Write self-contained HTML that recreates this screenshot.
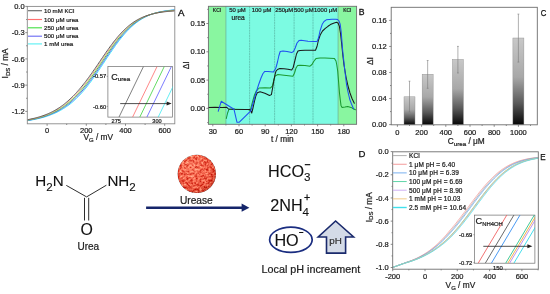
<!DOCTYPE html>
<html><head><meta charset="utf-8"><title>Urea sensing figure</title>
<style>
html,body{margin:0;padding:0;background:#fff;width:550px;height:294px;overflow:hidden}
svg{display:block}
text{font-family:"Liberation Sans", Arial, sans-serif;stroke:currentColor;stroke-width:0.22px;paint-order:stroke}
.big text, text.big{stroke-width:0.1px}
</style></head><body>
<svg width="550" height="294" viewBox="0 0 550 294" color="#1c1c1c">
<defs>
<clipPath id="clipA"><rect x="27.3" y="6.4" width="147.5" height="117.4"/></clipPath>
<clipPath id="clipAi"><rect x="107.9" y="66.4" width="64.7" height="50.7"/></clipPath>
<clipPath id="clipE"><rect x="392.7" y="151.8" width="145.6" height="117.4"/></clipPath>
<clipPath id="clipEi"><rect x="474.5" y="215.1" width="60.4" height="48.1"/></clipPath>
</defs>
<g fill="none" stroke-width="1.0" clip-path="url(#clipA)">
<path d="M27.3 120.64 L28.23 120.51 L29.16 120.36 L30.08 120.22 L31.01 120.06 L31.94 119.9 L32.87 119.73 L33.79 119.56 L34.72 119.38 L35.65 119.19 L36.58 119 L37.5 118.79 L38.43 118.58 L39.36 118.36 L40.29 118.13 L41.22 117.9 L42.14 117.65 L43.07 117.39 L44 117.13 L44.93 116.85 L45.85 116.56 L46.78 116.26 L47.71 115.95 L48.64 115.63 L49.56 115.3 L50.49 114.95 L51.42 114.59 L52.35 114.22 L53.27 113.84 L54.2 113.44 L55.13 113.02 L56.06 112.59 L56.99 112.15 L57.91 111.69 L58.84 111.21 L59.77 110.72 L60.7 110.21 L61.62 109.69 L62.55 109.14 L63.48 108.58 L64.41 108 L65.33 107.4 L66.26 106.78 L67.19 106.14 L68.12 105.49 L69.05 104.81 L69.97 104.11 L70.9 103.37 L71.83 102.6 L72.76 101.82 L73.68 101.01 L74.61 100.17 L75.54 99.32 L76.47 98.44 L77.39 97.53 L78.32 96.61 L79.25 95.66 L80.18 94.68 L81.11 93.66 L82.03 92.61 L82.96 91.55 L83.89 90.46 L84.82 89.34 L85.74 88.21 L86.67 87.05 L87.6 85.87 L88.53 84.67 L89.45 83.46 L90.38 82.22 L91.31 80.96 L92.24 79.68 L93.16 78.39 L94.09 77.08 L95.02 75.76 L95.95 74.43 L96.88 73.08 L97.8 71.71 L98.73 70.34 L99.66 68.96 L100.59 67.58 L101.51 66.18 L102.44 64.79 L103.37 63.39 L104.3 61.98 L105.22 60.58 L106.15 59.18 L107.08 57.78 L108.01 56.39 L108.94 55.01 L109.86 53.63 L110.79 52.26 L111.72 50.9 L112.65 49.55 L113.57 48.22 L114.5 46.91 L115.43 45.61 L116.36 44.33 L117.28 43.06 L118.21 41.82 L119.14 40.6 L120.07 39.4 L120.99 38.23 L121.92 37.08 L122.85 35.95 L123.78 34.85 L124.71 33.78 L125.63 32.73 L126.56 31.71 L127.49 30.72 L128.42 29.75 L129.34 28.82 L130.27 27.91 L131.2 27.03 L132.13 26.18 L133.05 25.36 L133.98 24.56 L134.91 23.8 L135.84 23.06 L136.77 22.34 L137.69 21.66 L138.62 21 L139.55 20.37 L140.48 19.76 L141.4 19.17 L142.33 18.62 L143.26 18.08 L144.19 17.57 L145.11 17.08 L146.04 16.61 L146.97 16.16 L147.9 15.73 L148.83 15.33 L149.75 14.94 L150.68 14.58 L151.61 14.24 L152.54 13.92 L153.46 13.62 L154.39 13.33 L155.32 13.06 L156.25 12.8 L157.17 12.56 L158.1 12.33 L159.03 12.11 L159.96 11.9 L160.88 11.71 L161.81 11.52 L162.74 11.35 L163.67 11.19 L164.6 11.03 L165.52 10.88 L166.45 10.75 L167.38 10.62 L168.31 10.49 L169.23 10.38 L170.16 10.27 L171.09 10.17 L172.02 10.07 L172.94 9.98 L173.87 9.9 L174.8 9.82" stroke="#30e0f8"/>
<path d="M27.3 120.41 L28.23 120.27 L29.16 120.12 L30.08 119.96 L31.01 119.8 L31.94 119.63 L32.87 119.45 L33.79 119.27 L34.72 119.08 L35.65 118.88 L36.58 118.67 L37.5 118.46 L38.43 118.23 L39.36 118 L40.29 117.76 L41.22 117.51 L42.14 117.25 L43.07 116.97 L44 116.69 L44.93 116.4 L45.85 116.09 L46.78 115.78 L47.71 115.45 L48.64 115.11 L49.56 114.76 L50.49 114.39 L51.42 114.01 L52.35 113.62 L53.27 113.21 L54.2 112.78 L55.13 112.35 L56.06 111.89 L56.99 111.42 L57.91 110.93 L58.84 110.43 L59.77 109.91 L60.7 109.37 L61.62 108.81 L62.55 108.23 L63.48 107.64 L64.41 107.03 L65.33 106.39 L66.26 105.74 L67.19 105.06 L68.12 104.36 L69.05 103.65 L69.97 102.91 L70.9 102.14 L71.83 101.34 L72.76 100.52 L73.68 99.68 L74.61 98.82 L75.54 97.93 L76.47 97.02 L77.39 96.08 L78.32 95.12 L79.25 94.14 L80.18 93.13 L81.11 92.09 L82.03 91.03 L82.96 89.94 L83.89 88.83 L84.82 87.7 L85.74 86.55 L86.67 85.37 L87.6 84.18 L88.53 82.96 L89.45 81.73 L90.38 80.47 L91.31 79.2 L92.24 77.92 L93.16 76.61 L94.09 75.29 L95.02 73.96 L95.95 72.62 L96.88 71.27 L97.8 69.9 L98.73 68.53 L99.66 67.15 L100.59 65.76 L101.51 64.37 L102.44 62.98 L103.37 61.59 L104.3 60.19 L105.22 58.8 L106.15 57.41 L107.08 56.03 L108.01 54.66 L108.94 53.29 L109.86 51.93 L110.79 50.58 L111.72 49.25 L112.65 47.93 L113.57 46.63 L114.5 45.34 L115.43 44.07 L116.36 42.82 L117.28 41.59 L118.21 40.39 L119.14 39.2 L120.07 38.04 L120.99 36.91 L121.92 35.79 L122.85 34.71 L123.78 33.65 L124.71 32.62 L125.63 31.61 L126.56 30.64 L127.49 29.69 L128.42 28.77 L129.34 27.88 L130.27 27.01 L131.2 26.18 L132.13 25.37 L133.05 24.59 L133.98 23.84 L134.91 23.11 L135.84 22.42 L136.77 21.75 L137.69 21.1 L138.62 20.48 L139.55 19.89 L140.48 19.32 L141.4 18.78 L142.33 18.25 L143.26 17.76 L144.19 17.28 L145.11 16.82 L146.04 16.39 L146.97 15.98 L147.9 15.58 L148.83 15.21 L149.75 14.85 L150.68 14.51 L151.61 14.2 L152.54 13.9 L153.46 13.62 L154.39 13.35 L155.32 13.09 L156.25 12.85 L157.17 12.63 L158.1 12.41 L159.03 12.21 L159.96 12.01 L160.88 11.83 L161.81 11.66 L162.74 11.5 L163.67 11.34 L164.6 11.2 L165.52 11.06 L166.45 10.94 L167.38 10.82 L168.31 10.7 L169.23 10.6 L170.16 10.5 L171.09 10.4 L172.02 10.31 L172.94 10.23 L173.87 10.15 L174.8 10.08" stroke="#5a5af0"/>
<path d="M27.3 120.18 L28.23 120.03 L29.16 119.87 L30.08 119.7 L31.01 119.53 L31.94 119.35 L32.87 119.17 L33.79 118.97 L34.72 118.77 L35.65 118.56 L36.58 118.34 L37.5 118.11 L38.43 117.88 L39.36 117.63 L40.29 117.38 L41.22 117.11 L42.14 116.83 L43.07 116.55 L44 116.25 L44.93 115.94 L45.85 115.62 L46.78 115.28 L47.71 114.94 L48.64 114.58 L49.56 114.2 L50.49 113.82 L51.42 113.41 L52.35 113 L53.27 112.56 L54.2 112.12 L55.13 111.65 L56.06 111.17 L56.99 110.67 L57.91 110.16 L58.84 109.63 L59.77 109.07 L60.7 108.5 L61.62 107.91 L62.55 107.3 L63.48 106.67 L64.41 106.02 L65.33 105.35 L66.26 104.66 L67.19 103.95 L68.12 103.21 L69.05 102.45 L69.97 101.67 L70.9 100.87 L71.83 100.04 L72.76 99.19 L73.68 98.32 L74.61 97.42 L75.54 96.5 L76.47 95.56 L77.39 94.59 L78.32 93.6 L79.25 92.59 L80.18 91.55 L81.11 90.49 L82.03 89.41 L82.96 88.3 L83.89 87.17 L84.82 86.02 L85.74 84.85 L86.67 83.66 L87.6 82.45 L88.53 81.22 L89.45 79.97 L90.38 78.7 L91.31 77.42 L92.24 76.12 L93.16 74.81 L94.09 73.48 L95.02 72.15 L95.95 70.8 L96.88 69.44 L97.8 68.07 L98.73 66.7 L99.66 65.32 L100.59 63.94 L101.51 62.56 L102.44 61.17 L103.37 59.79 L104.3 58.4 L105.22 57.03 L106.15 55.65 L107.08 54.29 L108.01 52.93 L108.94 51.59 L109.86 50.25 L110.79 48.93 L111.72 47.62 L112.65 46.33 L113.57 45.06 L114.5 43.8 L115.43 42.57 L116.36 41.35 L117.28 40.16 L118.21 38.99 L119.14 37.84 L120.07 36.72 L120.99 35.62 L121.92 34.55 L122.85 33.51 L123.78 32.49 L124.71 31.5 L125.63 30.54 L126.56 29.61 L127.49 28.7 L128.42 27.83 L129.34 26.98 L130.27 26.16 L131.2 25.37 L132.13 24.6 L133.05 23.87 L133.98 23.16 L134.91 22.47 L135.84 21.82 L136.77 21.19 L137.69 20.59 L138.62 20.01 L139.55 19.45 L140.48 18.92 L141.4 18.41 L142.33 17.93 L143.26 17.47 L144.19 17.03 L145.11 16.6 L146.04 16.2 L146.97 15.82 L147.9 15.46 L148.83 15.12 L149.75 14.79 L150.68 14.48 L151.61 14.18 L152.54 13.9 L153.46 13.64 L154.39 13.39 L155.32 13.15 L156.25 12.92 L157.17 12.71 L158.1 12.51 L159.03 12.32 L159.96 12.14 L160.88 11.97 L161.81 11.81 L162.74 11.66 L163.67 11.52 L164.6 11.38 L165.52 11.26 L166.45 11.14 L167.38 11.03 L168.31 10.92 L169.23 10.82 L170.16 10.73 L171.09 10.64 L172.02 10.56 L172.94 10.48 L173.87 10.41 L174.8 10.34" stroke="#40d040"/>
<path d="M27.3 119.95 L28.23 119.79 L29.16 119.62 L30.08 119.44 L31.01 119.26 L31.94 119.07 L32.87 118.88 L33.79 118.67 L34.72 118.46 L35.65 118.24 L36.58 118.01 L37.5 117.77 L38.43 117.52 L39.36 117.26 L40.29 116.99 L41.22 116.71 L42.14 116.42 L43.07 116.11 L44 115.8 L44.93 115.47 L45.85 115.13 L46.78 114.78 L47.71 114.41 L48.64 114.03 L49.56 113.64 L50.49 113.23 L51.42 112.8 L52.35 112.36 L53.27 111.91 L54.2 111.43 L55.13 110.94 L56.06 110.44 L56.99 109.91 L57.91 109.36 L58.84 108.8 L59.77 108.22 L60.7 107.62 L61.62 106.99 L62.55 106.35 L63.48 105.68 L64.41 105 L65.33 104.29 L66.26 103.56 L67.19 102.8 L68.12 102.03 L69.05 101.23 L69.97 100.4 L70.9 99.57 L71.83 98.71 L72.76 97.83 L73.68 96.92 L74.61 96 L75.54 95.04 L76.47 94.07 L77.39 93.07 L78.32 92.05 L79.25 91 L80.18 89.93 L81.11 88.85 L82.03 87.75 L82.96 86.63 L83.89 85.48 L84.82 84.31 L85.74 83.12 L86.67 81.92 L87.6 80.69 L88.53 79.45 L89.45 78.18 L90.38 76.91 L91.31 75.61 L92.24 74.31 L93.16 72.99 L94.09 71.66 L95.02 70.31 L95.95 68.96 L96.88 67.6 L97.8 66.24 L98.73 64.87 L99.66 63.49 L100.59 62.12 L101.51 60.74 L102.44 59.36 L103.37 57.99 L104.3 56.62 L105.22 55.26 L106.15 53.91 L107.08 52.56 L108.01 51.22 L108.94 49.9 L109.86 48.59 L110.79 47.3 L111.72 46.02 L112.65 44.76 L113.57 43.51 L114.5 42.29 L115.43 41.09 L116.36 39.91 L117.28 38.76 L118.21 37.62 L119.14 36.52 L120.07 35.44 L120.99 34.38 L121.92 33.35 L122.85 32.35 L123.78 31.38 L124.71 30.43 L125.63 29.51 L126.56 28.62 L127.49 27.76 L128.42 26.93 L129.34 26.12 L130.27 25.35 L131.2 24.6 L132.13 23.88 L133.05 23.18 L133.98 22.52 L134.91 21.88 L135.84 21.26 L136.77 20.67 L137.69 20.11 L138.62 19.57 L139.55 19.05 L140.48 18.56 L141.4 18.09 L142.33 17.64 L143.26 17.21 L144.19 16.8 L145.11 16.42 L146.04 16.05 L146.97 15.7 L147.9 15.37 L148.83 15.05 L149.75 14.75 L150.68 14.46 L151.61 14.19 L152.54 13.93 L153.46 13.68 L154.39 13.44 L155.32 13.22 L156.25 13.01 L157.17 12.81 L158.1 12.62 L159.03 12.45 L159.96 12.28 L160.88 12.12 L161.81 11.97 L162.74 11.83 L163.67 11.7 L164.6 11.58 L165.52 11.46 L166.45 11.35 L167.38 11.25 L168.31 11.15 L169.23 11.06 L170.16 10.97 L171.09 10.89 L172.02 10.81 L172.94 10.74 L173.87 10.68 L174.8 10.61" stroke="#f0a080"/>
<path d="M27.3 119.71 L28.23 119.54 L29.16 119.37 L30.08 119.18 L31.01 118.99 L31.94 118.79 L32.87 118.59 L33.79 118.37 L34.72 118.15 L35.65 117.91 L36.58 117.67 L37.5 117.42 L38.43 117.15 L39.36 116.88 L40.29 116.6 L41.22 116.3 L42.14 115.99 L43.07 115.67 L44 115.34 L44.93 115 L45.85 114.64 L46.78 114.27 L47.71 113.88 L48.64 113.48 L49.56 113.06 L50.49 112.63 L51.42 112.18 L52.35 111.72 L53.27 111.24 L54.2 110.74 L55.13 110.22 L56.06 109.68 L56.99 109.13 L57.91 108.55 L58.84 107.96 L59.77 107.34 L60.7 106.7 L61.62 106.05 L62.55 105.37 L63.48 104.66 L64.41 103.94 L65.33 103.19 L66.26 102.42 L67.19 101.63 L68.12 100.81 L69.05 99.96 L69.97 99.1 L70.9 98.23 L71.83 97.34 L72.76 96.43 L73.68 95.49 L74.61 94.53 L75.54 93.55 L76.47 92.54 L77.39 91.51 L78.32 90.45 L79.25 89.38 L80.18 88.28 L81.11 87.18 L82.03 86.06 L82.96 84.92 L83.89 83.75 L84.82 82.57 L85.74 81.37 L86.67 80.15 L87.6 78.91 L88.53 77.65 L89.45 76.38 L90.38 75.09 L91.31 73.79 L92.24 72.47 L93.16 71.15 L94.09 69.81 L95.02 68.46 L95.95 67.11 L96.88 65.75 L97.8 64.39 L98.73 63.03 L99.66 61.66 L100.59 60.29 L101.51 58.92 L102.44 57.56 L103.37 56.2 L104.3 54.85 L105.22 53.51 L106.15 52.17 L107.08 50.85 L108.01 49.54 L108.94 48.24 L109.86 46.96 L110.79 45.69 L111.72 44.44 L112.65 43.21 L113.57 42 L114.5 40.82 L115.43 39.65 L116.36 38.51 L117.28 37.39 L118.21 36.3 L119.14 35.23 L120.07 34.19 L120.99 33.18 L121.92 32.19 L122.85 31.24 L123.78 30.3 L124.71 29.4 L125.63 28.53 L126.56 27.68 L127.49 26.86 L128.42 26.07 L129.34 25.31 L130.27 24.58 L131.2 23.87 L132.13 23.19 L133.05 22.54 L133.98 21.92 L134.91 21.32 L135.84 20.74 L136.77 20.19 L137.69 19.67 L138.62 19.16 L139.55 18.68 L140.48 18.23 L141.4 17.79 L142.33 17.38 L143.26 16.99 L144.19 16.61 L145.11 16.26 L146.04 15.92 L146.97 15.6 L147.9 15.3 L148.83 15.01 L149.75 14.74 L150.68 14.47 L151.61 14.21 L152.54 13.97 L153.46 13.74 L154.39 13.52 L155.32 13.31 L156.25 13.12 L157.17 12.93 L158.1 12.76 L159.03 12.59 L159.96 12.44 L160.88 12.29 L161.81 12.15 L162.74 12.02 L163.67 11.9 L164.6 11.78 L165.52 11.68 L166.45 11.57 L167.38 11.48 L168.31 11.39 L169.23 11.3 L170.16 11.22 L171.09 11.15 L172.02 11.08 L172.94 11.01 L173.87 10.95 L174.8 10.89" stroke="#5a5a5a"/>
</g>
<rect x="27.3" y="6.4" width="147.5" height="117.4" fill="none" stroke="#8a8a8a" stroke-width="0.9"/>
<line x1="25.3" y1="6.4" x2="27.3" y2="6.4" stroke="#6e6e6e" stroke-width="0.8"/>
<line x1="25.3" y1="32.65" x2="27.3" y2="32.65" stroke="#6e6e6e" stroke-width="0.8"/>
<line x1="25.3" y1="58.9" x2="27.3" y2="58.9" stroke="#6e6e6e" stroke-width="0.8"/>
<line x1="25.3" y1="85.15" x2="27.3" y2="85.15" stroke="#6e6e6e" stroke-width="0.8"/>
<line x1="25.3" y1="111.4" x2="27.3" y2="111.4" stroke="#6e6e6e" stroke-width="0.8"/>
<line x1="26.1" y1="19.52" x2="27.3" y2="19.52" stroke="#6e6e6e" stroke-width="0.8"/>
<line x1="26.1" y1="45.77" x2="27.3" y2="45.77" stroke="#6e6e6e" stroke-width="0.8"/>
<line x1="26.1" y1="72.03" x2="27.3" y2="72.03" stroke="#6e6e6e" stroke-width="0.8"/>
<line x1="26.1" y1="98.28" x2="27.3" y2="98.28" stroke="#6e6e6e" stroke-width="0.8"/>
<line x1="47.1" y1="123.8" x2="47.1" y2="125.8" stroke="#6e6e6e" stroke-width="0.8"/>
<line x1="86.3" y1="123.8" x2="86.3" y2="125.8" stroke="#6e6e6e" stroke-width="0.8"/>
<line x1="125.5" y1="123.8" x2="125.5" y2="125.8" stroke="#6e6e6e" stroke-width="0.8"/>
<line x1="164.7" y1="123.8" x2="164.7" y2="125.8" stroke="#6e6e6e" stroke-width="0.8"/>
<line x1="66.7" y1="123.8" x2="66.7" y2="125" stroke="#6e6e6e" stroke-width="0.8"/>
<line x1="105.9" y1="123.8" x2="105.9" y2="125" stroke="#6e6e6e" stroke-width="0.8"/>
<line x1="145.1" y1="123.8" x2="145.1" y2="125" stroke="#6e6e6e" stroke-width="0.8"/>
<text x="24.6" y="9" font-size="7.5" text-anchor="end" fill="#1c1c1c" color="#1c1c1c">0.0</text>
<text x="24.6" y="35.25" font-size="7.5" text-anchor="end" fill="#1c1c1c" color="#1c1c1c">-0.3</text>
<text x="24.6" y="61.5" font-size="7.5" text-anchor="end" fill="#1c1c1c" color="#1c1c1c">-0.6</text>
<text x="24.6" y="87.75" font-size="7.5" text-anchor="end" fill="#1c1c1c" color="#1c1c1c">-0.9</text>
<text x="24.6" y="114" font-size="7.5" text-anchor="end" fill="#1c1c1c" color="#1c1c1c">-1.2</text>
<text x="47.1" y="132.8" font-size="7.5" text-anchor="middle" fill="#1c1c1c" color="#1c1c1c">0</text>
<text x="86.3" y="132.8" font-size="7.5" text-anchor="middle" fill="#1c1c1c" color="#1c1c1c">200</text>
<text x="125.5" y="132.8" font-size="7.5" text-anchor="middle" fill="#1c1c1c" color="#1c1c1c">400</text>
<text x="164.7" y="132.8" font-size="7.5" text-anchor="middle" fill="#1c1c1c" color="#1c1c1c">600</text>
<line x1="28" y1="10.7" x2="42" y2="10.7" stroke="#6a6a6a" stroke-width="1.15"/>
<text x="44.1" y="12.9" font-size="6.1" text-anchor="start" fill="#1c1c1c" color="#1c1c1c">10 mM KCl</text>
<line x1="28" y1="19.5" x2="42" y2="19.5" stroke="#ff7070" stroke-width="1.15"/>
<text x="44.1" y="21.7" font-size="6.1" text-anchor="start" fill="#1c1c1c" color="#1c1c1c">100 μM urea</text>
<line x1="28" y1="27.8" x2="42" y2="27.8" stroke="#48e048" stroke-width="1.15"/>
<text x="44.1" y="30" font-size="6.1" text-anchor="start" fill="#1c1c1c" color="#1c1c1c">250 μM urea</text>
<line x1="28" y1="36.2" x2="42" y2="36.2" stroke="#6e6ef4" stroke-width="1.15"/>
<text x="44.1" y="38.4" font-size="6.1" text-anchor="start" fill="#1c1c1c" color="#1c1c1c">500 μM urea</text>
<line x1="28" y1="43.9" x2="42" y2="43.9" stroke="#5ef0f4" stroke-width="1.15"/>
<text x="44.1" y="46.1" font-size="6.1" text-anchor="start" fill="#1c1c1c" color="#1c1c1c">1 mM urea</text>
<text transform="translate(8.1 63.4) rotate(-90)" font-size="8.3" text-anchor="middle" fill="#1c1c1c">I<tspan font-size="6" dy="1.6">DS</tspan><tspan dy="-1.6"> / mA</tspan></text>
<text x="98.2" y="140.1" font-size="8.3" text-anchor="middle" fill="#1c1c1c">V<tspan font-size="6" dy="1.6">G</tspan><tspan dy="-1.6"> / mV</tspan></text>
<text x="177.9" y="15.7" font-size="9.7" text-anchor="start" fill="#111" color="#111" style="stroke-width:0.35px">A</text>
<rect x="107.9" y="66.4" width="64.7" height="50.7" fill="#fff" stroke="#6e6e6e" stroke-width="0.7"/>
<g clip-path="url(#clipAi)" stroke-width="0.6">
<line x1="119" y1="117.1" x2="143.54" y2="66.4" stroke="#555555" stroke-width="0.75"/>
<line x1="132.6" y1="117.1" x2="157.14" y2="66.4" stroke="#ff6060" stroke-width="0.75"/>
<line x1="139.8" y1="117.1" x2="164.34" y2="66.4" stroke="#30d030" stroke-width="0.75"/>
<line x1="146.9" y1="117.1" x2="171.44" y2="66.4" stroke="#5050ff" stroke-width="0.75"/>
<line x1="158.2" y1="117.1" x2="182.74" y2="66.4" stroke="#30e8f0" stroke-width="0.75"/>
</g>
<line x1="120.2" y1="103.6" x2="168" y2="103.6" stroke="#222" stroke-width="0.8"/>
<polygon points="171.6,103.6 166.6,101.6 166.6,105.6" fill="#222"/>
<line x1="106.7" y1="76.3" x2="107.9" y2="76.3" stroke="#6e6e6e" stroke-width="0.6"/>
<line x1="106.7" y1="106.4" x2="107.9" y2="106.4" stroke="#6e6e6e" stroke-width="0.6"/>
<text x="106.2" y="78.4" font-size="5.8" text-anchor="end" fill="#1c1c1c" color="#1c1c1c">-0.57</text>
<text x="106.2" y="108.5" font-size="5.8" text-anchor="end" fill="#1c1c1c" color="#1c1c1c">-0.60</text>
<text x="116.2" y="122.8" font-size="5.6" text-anchor="middle" fill="#1c1c1c" color="#1c1c1c">275</text>
<text x="157" y="122.8" font-size="5.6" text-anchor="middle" fill="#1c1c1c" color="#1c1c1c">300</text>
<text x="111.3" y="80.0" font-size="9" fill="#1c1c1c">C<tspan font-size="6.2" dy="1.2">urea</tspan></text>
<rect x="208.4" y="6.3" width="17.5" height="118" fill="#89f6a0"/>
<rect x="225.9" y="6.3" width="112.2" height="118" fill="#7cfbe2"/>
<rect x="338.1" y="6.3" width="18.5" height="118" fill="#89f6a0"/>
<line x1="249.6" y1="6.3" x2="249.6" y2="124.3" stroke="#58b4a4" stroke-width="0.7" stroke-dasharray="2 0.6"/>
<line x1="274.6" y1="6.3" x2="274.6" y2="124.3" stroke="#58b4a4" stroke-width="0.7" stroke-dasharray="2 0.6"/>
<line x1="294.1" y1="6.3" x2="294.1" y2="124.3" stroke="#58b4a4" stroke-width="0.7" stroke-dasharray="2 0.6"/>
<line x1="313" y1="6.3" x2="313" y2="124.3" stroke="#58b4a4" stroke-width="0.7" stroke-dasharray="2 0.6"/>
<line x1="225.9" y1="6.3" x2="225.9" y2="124.3" stroke="#62ae8c" stroke-width="0.7"/>
<line x1="338.1" y1="6.3" x2="338.1" y2="124.3" stroke="#62ae8c" stroke-width="0.7"/>
<text x="216.9" y="12.2" font-size="5" text-anchor="middle" fill="#222" color="#222">KCl</text>
<text x="237.5" y="12.2" font-size="5.9" text-anchor="middle" fill="#222" color="#222">50 μM</text>
<text x="261.6" y="12.2" font-size="5.9" text-anchor="middle" fill="#222" color="#222">100 μM</text>
<text x="284.2" y="12.2" font-size="5.9" text-anchor="middle" fill="#222" color="#222">250μM</text>
<text x="303.8" y="12.2" font-size="5.9" text-anchor="middle" fill="#222" color="#222">500 μM</text>
<text x="325.6" y="12.2" font-size="5.9" text-anchor="middle" fill="#222" color="#222">1000 μM</text>
<text x="347.2" y="12.2" font-size="5" text-anchor="middle" fill="#222" color="#222">KCl</text>
<text x="238.2" y="20" font-size="6.6" text-anchor="middle" fill="#222" color="#222">urea</text>
<g fill="none" stroke-width="1.05" stroke-linejoin="round" stroke-linecap="round">
<path d="M226.3 118.5 L227.6 113 L228.9 109.3 L235 109.3 L245 109.4 L248 109.6 L250.3 110.3 L252.5 102 L254.5 95 L256.4 90.8 L259.2 88 L265 87.8 L270.4 88 L272.3 86.2 L273.8 80 L275.1 75.9 L277.9 74.6 L284 75.2 L292.9 76.2 L294.5 73 L296 68 L297.6 65.5 L300 65.2 L305 65.6 L310 66.2 L312 64.5 L314 61 L316 58.6 L320 58 L325 58 L334.5 58.6 L336 61 L336.8 65 L337.7 71 L338.6 82 L339.5 93.2 L340.3 100 L341 105.4 L342.1 107.4 L345 107 L347.7 106.5 L351 107.4 L353 108.5 L355.4 109.8" stroke="#1a9a30"/>
<path d="M208.4 107.4 L215 107.3 L222 107.4 L226.8 107.3 L228.5 109 L235 109.3 L245 109.5 L249.9 109.6 L251.7 113 L253 108 L254.5 101.1 L255.8 96 L257.3 92.7 L260.1 91.8 L262.5 92.4 L264.8 93.3 L267 94.3 L269.5 95.5 L271.4 94.6 L272.8 87 L274.2 78.7 L275.2 74 L276 71.2 L277.5 69.5 L279.8 68.6 L284 68.8 L288 69.2 L291.7 70 L293.2 67.5 L294.8 61 L296.5 54 L298 51 L300 50.4 L305 50.2 L310 50.2 L315.5 50.3 L317 46.5 L318.5 40 L320.2 35 L322.5 31 L325.3 28.4 L328 26.3 L330.4 24.6 L333.5 23.2 L336.5 22.3 L338 23 L339.3 26 L340.6 34 L341.8 45 L342.7 54 L344 65 L346 77 L348 86 L350 93 L352 98.5 L354.3 103.2" stroke="#1a1a1a"/>
<path d="M218.2 111.3 L221.2 101.3 L234 109.3 L237 122.3 L239.1 122.3 L250.8 110.8 L252.5 105 L255.5 94.6 L258.5 85 L261.1 77.8 L263 73.5 L264.8 71.4 L268 71.5 L273.2 72.1 L274.8 70 L276 67.5 L277.5 62 L278.8 56 L280.2 51.5 L283 51 L287 51.6 L291.7 52.6 L293.5 51.5 L295.2 48 L297 43 L299 40.6 L301.2 40.3 L308 41.2 L314.3 41.4 L317.1 41.4 L318.5 38 L320 31 L322.2 24.3 L324 21.5 L326.3 19.8 L332 19.2 L336 19.2 L337.6 19.6 L339 21 L340.2 24.3 L341.2 32 L342.7 50.8 L344.7 69.2 L346.5 84.3 L348 92 L349.9 99.8 L351.5 104 L353.6 108.9" stroke="#2050f0"/>
</g>
<rect x="208.4" y="6.3" width="148.2" height="118" fill="none" stroke="#6e6e6e" stroke-width="0.9"/>
<line x1="206.4" y1="108.4" x2="208.4" y2="108.4" stroke="#6e6e6e" stroke-width="0.8"/>
<line x1="206.4" y1="80.1" x2="208.4" y2="80.1" stroke="#6e6e6e" stroke-width="0.8"/>
<line x1="206.4" y1="51.8" x2="208.4" y2="51.8" stroke="#6e6e6e" stroke-width="0.8"/>
<line x1="206.4" y1="23.5" x2="208.4" y2="23.5" stroke="#6e6e6e" stroke-width="0.8"/>
<line x1="207.2" y1="122.55" x2="208.4" y2="122.55" stroke="#6e6e6e" stroke-width="0.8"/>
<line x1="207.2" y1="94.25" x2="208.4" y2="94.25" stroke="#6e6e6e" stroke-width="0.8"/>
<line x1="207.2" y1="65.95" x2="208.4" y2="65.95" stroke="#6e6e6e" stroke-width="0.8"/>
<line x1="207.2" y1="37.65" x2="208.4" y2="37.65" stroke="#6e6e6e" stroke-width="0.8"/>
<line x1="207.2" y1="9.35" x2="208.4" y2="9.35" stroke="#6e6e6e" stroke-width="0.8"/>
<line x1="212.8" y1="124.3" x2="212.8" y2="126.3" stroke="#6e6e6e" stroke-width="0.8"/>
<line x1="239" y1="124.3" x2="239" y2="126.3" stroke="#6e6e6e" stroke-width="0.8"/>
<line x1="265.2" y1="124.3" x2="265.2" y2="126.3" stroke="#6e6e6e" stroke-width="0.8"/>
<line x1="291.4" y1="124.3" x2="291.4" y2="126.3" stroke="#6e6e6e" stroke-width="0.8"/>
<line x1="317.6" y1="124.3" x2="317.6" y2="126.3" stroke="#6e6e6e" stroke-width="0.8"/>
<line x1="343.79" y1="124.3" x2="343.79" y2="126.3" stroke="#6e6e6e" stroke-width="0.8"/>
<line x1="225.9" y1="124.3" x2="225.9" y2="125.5" stroke="#6e6e6e" stroke-width="0.8"/>
<line x1="252.1" y1="124.3" x2="252.1" y2="125.5" stroke="#6e6e6e" stroke-width="0.8"/>
<line x1="278.3" y1="124.3" x2="278.3" y2="125.5" stroke="#6e6e6e" stroke-width="0.8"/>
<line x1="304.5" y1="124.3" x2="304.5" y2="125.5" stroke="#6e6e6e" stroke-width="0.8"/>
<line x1="330.69" y1="124.3" x2="330.69" y2="125.5" stroke="#6e6e6e" stroke-width="0.8"/>
<text x="205.2" y="111" font-size="7.5" text-anchor="end" fill="#1c1c1c" color="#1c1c1c">0.00</text>
<text x="205.2" y="82.7" font-size="7.5" text-anchor="end" fill="#1c1c1c" color="#1c1c1c">0.05</text>
<text x="205.2" y="54.4" font-size="7.5" text-anchor="end" fill="#1c1c1c" color="#1c1c1c">0.10</text>
<text x="205.2" y="26.1" font-size="7.5" text-anchor="end" fill="#1c1c1c" color="#1c1c1c">0.15</text>
<text x="212.8" y="134.4" font-size="7.5" text-anchor="middle" fill="#1c1c1c" color="#1c1c1c">30</text>
<text x="239" y="134.4" font-size="7.5" text-anchor="middle" fill="#1c1c1c" color="#1c1c1c">60</text>
<text x="265.2" y="134.4" font-size="7.5" text-anchor="middle" fill="#1c1c1c" color="#1c1c1c">90</text>
<text x="291.4" y="134.4" font-size="7.5" text-anchor="middle" fill="#1c1c1c" color="#1c1c1c">120</text>
<text x="317.6" y="134.4" font-size="7.5" text-anchor="middle" fill="#1c1c1c" color="#1c1c1c">150</text>
<text x="343.79" y="134.4" font-size="7.5" text-anchor="middle" fill="#1c1c1c" color="#1c1c1c">180</text>
<text x="282.3" y="142.1" font-size="8.3" text-anchor="middle" fill="#1c1c1c" color="#1c1c1c">t / min</text>
<text transform="translate(188.7 65.4) rotate(-90)" font-size="8.3" text-anchor="middle" fill="#1c1c1c">ΔI</text>
<text x="358.7" y="14.7" font-size="9.5" text-anchor="start" fill="#111" color="#111" style="stroke-width:0.3px" textLength="5.8" lengthAdjust="spacingAndGlyphs">B</text>
<defs><linearGradient id="bar" x1="0" y1="0" x2="0" y2="1"><stop offset="0" stop-color="#c8c8c8"/><stop offset="0.45" stop-color="#a8a8a8"/><stop offset="0.75" stop-color="#5a5a5a"/><stop offset="1" stop-color="#050505"/></linearGradient></defs>
<rect x="404" y="96.8" width="11" height="28" fill="url(#bar)" stroke="#8a8a8a" stroke-width="0.4"/>
<line x1="409.5" y1="81.2" x2="409.5" y2="112" stroke="#7a7a7a" stroke-width="0.6"/>
<line x1="408.6" y1="81.2" x2="410.4" y2="81.2" stroke="#7a7a7a" stroke-width="0.6"/>
<line x1="408.6" y1="112" x2="410.4" y2="112" stroke="#7a7a7a" stroke-width="0.6"/>
<rect x="422.15" y="74.2" width="11" height="50.6" fill="url(#bar)" stroke="#8a8a8a" stroke-width="0.4"/>
<line x1="427.65" y1="60.5" x2="427.65" y2="88.3" stroke="#7a7a7a" stroke-width="0.6"/>
<line x1="426.75" y1="60.5" x2="428.55" y2="60.5" stroke="#7a7a7a" stroke-width="0.6"/>
<line x1="426.75" y1="88.3" x2="428.55" y2="88.3" stroke="#7a7a7a" stroke-width="0.6"/>
<rect x="452.4" y="59.4" width="11" height="65.4" fill="url(#bar)" stroke="#8a8a8a" stroke-width="0.4"/>
<line x1="457.9" y1="46.4" x2="457.9" y2="73" stroke="#7a7a7a" stroke-width="0.6"/>
<line x1="457" y1="46.4" x2="458.8" y2="46.4" stroke="#7a7a7a" stroke-width="0.6"/>
<line x1="457" y1="73" x2="458.8" y2="73" stroke="#7a7a7a" stroke-width="0.6"/>
<rect x="512.9" y="38" width="11" height="86.8" fill="url(#bar)" stroke="#8a8a8a" stroke-width="0.4"/>
<line x1="518.4" y1="14.1" x2="518.4" y2="62.1" stroke="#7a7a7a" stroke-width="0.6"/>
<line x1="517.5" y1="14.1" x2="519.3" y2="14.1" stroke="#7a7a7a" stroke-width="0.6"/>
<line x1="517.5" y1="62.1" x2="519.3" y2="62.1" stroke="#7a7a7a" stroke-width="0.6"/>
<rect x="391.2" y="7.3" width="146.1" height="117.5" fill="none" stroke="#6e6e6e" stroke-width="0.9"/>
<line x1="389.2" y1="124.6" x2="391.2" y2="124.6" stroke="#6e6e6e" stroke-width="0.8"/>
<line x1="389.2" y1="98.55" x2="391.2" y2="98.55" stroke="#6e6e6e" stroke-width="0.8"/>
<line x1="389.2" y1="72.5" x2="391.2" y2="72.5" stroke="#6e6e6e" stroke-width="0.8"/>
<line x1="389.2" y1="46.45" x2="391.2" y2="46.45" stroke="#6e6e6e" stroke-width="0.8"/>
<line x1="389.2" y1="20.4" x2="391.2" y2="20.4" stroke="#6e6e6e" stroke-width="0.8"/>
<line x1="390" y1="111.57" x2="391.2" y2="111.57" stroke="#6e6e6e" stroke-width="0.8"/>
<line x1="390" y1="85.52" x2="391.2" y2="85.52" stroke="#6e6e6e" stroke-width="0.8"/>
<line x1="390" y1="59.47" x2="391.2" y2="59.47" stroke="#6e6e6e" stroke-width="0.8"/>
<line x1="390" y1="33.42" x2="391.2" y2="33.42" stroke="#6e6e6e" stroke-width="0.8"/>
<line x1="397.4" y1="124.8" x2="397.4" y2="126.8" stroke="#6e6e6e" stroke-width="0.8"/>
<line x1="421.6" y1="124.8" x2="421.6" y2="126.8" stroke="#6e6e6e" stroke-width="0.8"/>
<line x1="445.8" y1="124.8" x2="445.8" y2="126.8" stroke="#6e6e6e" stroke-width="0.8"/>
<line x1="470" y1="124.8" x2="470" y2="126.8" stroke="#6e6e6e" stroke-width="0.8"/>
<line x1="494.2" y1="124.8" x2="494.2" y2="126.8" stroke="#6e6e6e" stroke-width="0.8"/>
<line x1="518.4" y1="124.8" x2="518.4" y2="126.8" stroke="#6e6e6e" stroke-width="0.8"/>
<line x1="409.5" y1="124.8" x2="409.5" y2="126" stroke="#6e6e6e" stroke-width="0.8"/>
<line x1="433.7" y1="124.8" x2="433.7" y2="126" stroke="#6e6e6e" stroke-width="0.8"/>
<line x1="457.9" y1="124.8" x2="457.9" y2="126" stroke="#6e6e6e" stroke-width="0.8"/>
<line x1="482.1" y1="124.8" x2="482.1" y2="126" stroke="#6e6e6e" stroke-width="0.8"/>
<line x1="506.3" y1="124.8" x2="506.3" y2="126" stroke="#6e6e6e" stroke-width="0.8"/>
<line x1="530.5" y1="124.8" x2="530.5" y2="126" stroke="#6e6e6e" stroke-width="0.8"/>
<text x="386.6" y="127.2" font-size="7.5" text-anchor="end" fill="#1c1c1c" color="#1c1c1c">0.00</text>
<text x="386.6" y="101.15" font-size="7.5" text-anchor="end" fill="#1c1c1c" color="#1c1c1c">0.04</text>
<text x="386.6" y="75.1" font-size="7.5" text-anchor="end" fill="#1c1c1c" color="#1c1c1c">0.08</text>
<text x="386.6" y="49.05" font-size="7.5" text-anchor="end" fill="#1c1c1c" color="#1c1c1c">0.12</text>
<text x="386.6" y="23" font-size="7.5" text-anchor="end" fill="#1c1c1c" color="#1c1c1c">0.16</text>
<text x="397.4" y="135.1" font-size="7.5" text-anchor="middle" fill="#1c1c1c" color="#1c1c1c">0</text>
<text x="421.6" y="135.1" font-size="7.5" text-anchor="middle" fill="#1c1c1c" color="#1c1c1c">200</text>
<text x="445.8" y="135.1" font-size="7.5" text-anchor="middle" fill="#1c1c1c" color="#1c1c1c">400</text>
<text x="470" y="135.1" font-size="7.5" text-anchor="middle" fill="#1c1c1c" color="#1c1c1c">600</text>
<text x="494.2" y="135.1" font-size="7.5" text-anchor="middle" fill="#1c1c1c" color="#1c1c1c">800</text>
<text x="518.4" y="135.1" font-size="7.5" text-anchor="middle" fill="#1c1c1c" color="#1c1c1c">1000</text>
<text x="466.2" y="143.8" font-size="8.3" text-anchor="middle" fill="#1c1c1c">C<tspan font-size="6.2" dy="2.2">urea</tspan><tspan dy="-2.2"> / μM</tspan></text>
<text transform="translate(372.5 61.2) rotate(-90)" font-size="8.3" text-anchor="middle" fill="#1c1c1c">ΔI</text>
<text x="540.7" y="15.8" font-size="9" text-anchor="start" fill="#111" color="#111" style="stroke-width:0.25px" textLength="5.6" lengthAdjust="spacingAndGlyphs">C</text>
<g fill="none" stroke-width="0.8" clip-path="url(#clipE)">
<path d="M392.7 267.41 L393.62 267.08 L394.53 266.75 L395.45 266.42 L396.36 266.09 L397.28 265.76 L398.19 265.42 L399.11 265.09 L400.03 264.75 L400.94 264.41 L401.86 264.07 L402.77 263.73 L403.69 263.4 L404.6 263.06 L405.52 262.73 L406.44 262.41 L407.35 262.11 L408.27 261.8 L409.18 261.48 L410.1 261.16 L411.01 260.82 L411.93 260.47 L412.85 260.1 L413.76 259.73 L414.68 259.34 L415.59 258.94 L416.51 258.53 L417.42 258.1 L418.34 257.67 L419.26 257.21 L420.17 256.74 L421.09 256.26 L422 255.76 L422.92 255.25 L423.83 254.72 L424.75 254.18 L425.67 253.62 L426.58 253.04 L427.5 252.45 L428.41 251.84 L429.33 251.21 L430.24 250.56 L431.16 249.9 L432.08 249.21 L432.99 248.51 L433.91 247.79 L434.82 247.05 L435.74 246.29 L436.65 245.51 L437.57 244.71 L438.49 243.9 L439.4 243.06 L440.32 242.2 L441.23 241.32 L442.15 240.43 L443.06 239.51 L443.98 238.57 L444.9 237.61 L445.81 236.64 L446.73 235.64 L447.64 234.62 L448.56 233.59 L449.47 232.54 L450.39 231.48 L451.31 230.44 L452.22 229.39 L453.14 228.32 L454.05 227.23 L454.97 226.13 L455.88 225.02 L456.8 223.89 L457.72 222.75 L458.63 221.59 L459.55 220.43 L460.46 219.25 L461.38 218.07 L462.29 216.87 L463.21 215.67 L464.13 214.46 L465.04 213.24 L465.96 212.02 L466.87 210.79 L467.79 209.56 L468.71 208.33 L469.62 207.1 L470.54 205.86 L471.45 204.63 L472.37 203.4 L473.28 202.17 L474.2 200.94 L475.12 199.72 L476.03 198.51 L476.95 197.3 L477.86 196.11 L478.78 194.92 L479.69 193.74 L480.61 192.58 L481.53 191.42 L482.44 190.28 L483.36 189.16 L484.27 188.05 L485.19 186.96 L486.1 185.88 L487.02 184.82 L487.94 183.78 L488.85 182.77 L489.77 181.77 L490.68 180.79 L491.6 179.83 L492.51 178.89 L493.43 177.98 L494.35 177.09 L495.26 176.22 L496.18 175.38 L497.09 174.55 L498.01 173.76 L498.92 172.98 L499.84 172.23 L500.76 171.5 L501.67 170.8 L502.59 170.11 L503.5 169.46 L504.42 168.82 L505.33 168.21 L506.25 167.62 L507.17 167.05 L508.08 166.5 L509 165.98 L509.91 165.48 L510.83 164.99 L511.74 164.53 L512.66 164.09 L513.58 163.66 L514.49 163.26 L515.41 162.87 L516.32 162.5 L517.24 162.15 L518.15 161.81 L519.07 161.49 L519.99 161.18 L520.9 160.9 L521.82 160.62 L522.73 160.36 L523.65 160.11 L524.56 159.87 L525.48 159.65 L526.4 159.44 L527.31 159.24 L528.23 159.05 L529.14 158.87 L530.06 158.7 L530.97 158.54 L531.89 158.39 L532.81 158.25 L533.72 158.12 L534.64 157.99 L535.55 157.87 L536.47 157.76 L537.38 157.65 L538.3 157.55" stroke="#a8a8a8"/>
<path d="M392.7 267.41 L393.62 267.08 L394.53 266.75 L395.45 266.42 L396.36 266.09 L397.28 265.75 L398.19 265.41 L399.11 265.07 L400.03 264.73 L400.94 264.39 L401.86 264.04 L402.77 263.7 L403.69 263.35 L404.6 263.01 L405.52 262.67 L406.44 262.34 L407.35 262.03 L408.27 261.72 L409.18 261.39 L410.1 261.05 L411.01 260.7 L411.93 260.34 L412.85 259.96 L413.76 259.57 L414.68 259.17 L415.59 258.76 L416.51 258.33 L417.42 257.89 L418.34 257.43 L419.26 256.96 L420.17 256.47 L421.09 255.97 L422 255.45 L422.92 254.91 L423.83 254.36 L424.75 253.79 L425.67 253.2 L426.58 252.6 L427.5 251.97 L428.41 251.33 L429.33 250.67 L430.24 249.99 L431.16 249.29 L432.08 248.57 L432.99 247.83 L433.91 247.08 L434.82 246.3 L435.74 245.5 L436.65 244.68 L437.57 243.83 L438.49 242.97 L439.4 242.09 L440.32 241.18 L441.23 240.26 L442.15 239.31 L443.06 238.34 L443.98 237.35 L444.9 236.34 L445.81 235.31 L446.73 234.26 L447.64 233.19 L448.56 232.09 L449.47 230.98 L450.39 229.89 L451.31 228.82 L452.22 227.75 L453.14 226.65 L454.05 225.54 L454.97 224.42 L455.88 223.29 L456.8 222.14 L457.72 220.98 L458.63 219.81 L459.55 218.63 L460.46 217.44 L461.38 216.24 L462.29 215.03 L463.21 213.82 L464.13 212.6 L465.04 211.37 L465.96 210.14 L466.87 208.91 L467.79 207.68 L468.71 206.44 L469.62 205.21 L470.54 203.98 L471.45 202.75 L472.37 201.52 L473.28 200.3 L474.2 199.08 L475.12 197.87 L476.03 196.67 L476.95 195.48 L477.86 194.29 L478.78 193.12 L479.69 191.96 L480.61 190.82 L481.53 189.69 L482.44 188.57 L483.36 187.47 L484.27 186.39 L485.19 185.32 L486.1 184.27 L487.02 183.24 L487.94 182.23 L488.85 181.25 L489.77 180.28 L490.68 179.33 L491.6 178.41 L492.51 177.51 L493.43 176.63 L494.35 175.77 L495.26 174.94 L496.18 174.13 L497.09 173.34 L498.01 172.58 L498.92 171.84 L499.84 171.13 L500.76 170.43 L501.67 169.76 L502.59 169.12 L503.5 168.49 L504.42 167.89 L505.33 167.32 L506.25 166.76 L507.17 166.22 L508.08 165.71 L509 165.22 L509.91 164.74 L510.83 164.29 L511.74 163.86 L512.66 163.44 L513.58 163.05 L514.49 162.67 L515.41 162.31 L516.32 161.97 L517.24 161.64 L518.15 161.33 L519.07 161.03 L519.99 160.75 L520.9 160.48 L521.82 160.23 L522.73 159.98 L523.65 159.76 L524.56 159.54 L525.48 159.33 L526.4 159.14 L527.31 158.95 L528.23 158.78 L529.14 158.62 L530.06 158.46 L530.97 158.32 L531.89 158.18 L532.81 158.05 L533.72 157.92 L534.64 157.81 L535.55 157.7 L536.47 157.6 L537.38 157.5 L538.3 157.41" stroke="#f49a9a"/>
<path d="M392.7 267.41 L393.62 267.08 L394.53 266.75 L395.45 266.43 L396.36 266.09 L397.28 265.76 L398.19 265.43 L399.11 265.1 L400.03 264.76 L400.94 264.43 L401.86 264.1 L402.77 263.76 L403.69 263.43 L404.6 263.1 L405.52 262.78 L406.44 262.46 L407.35 262.17 L408.27 261.87 L409.18 261.56 L410.1 261.24 L411.01 260.91 L411.93 260.57 L412.85 260.22 L413.76 259.86 L414.68 259.49 L415.59 259.1 L416.51 258.7 L417.42 258.29 L418.34 257.86 L419.26 257.43 L420.17 256.98 L421.09 256.51 L422 256.03 L422.92 255.54 L423.83 255.03 L424.75 254.51 L425.67 253.97 L426.58 253.42 L427.5 252.85 L428.41 252.26 L429.33 251.66 L430.24 251.04 L431.16 250.4 L432.08 249.75 L432.99 249.08 L433.91 248.39 L434.82 247.68 L435.74 246.96 L436.65 246.21 L437.57 245.45 L438.49 244.67 L439.4 243.87 L440.32 243.05 L441.23 242.22 L442.15 241.36 L443.06 240.49 L443.98 239.59 L444.9 238.68 L445.81 237.75 L446.73 236.8 L447.64 235.83 L448.56 234.84 L449.47 233.84 L450.39 232.82 L451.31 231.8 L452.22 230.77 L453.14 229.72 L454.05 228.65 L454.97 227.57 L455.88 226.47 L456.8 225.36 L457.72 224.24 L458.63 223.1 L459.55 221.95 L460.46 220.79 L461.38 219.62 L462.29 218.44 L463.21 217.24 L464.13 216.04 L465.04 214.84 L465.96 213.62 L466.87 212.4 L467.79 211.17 L468.71 209.95 L469.62 208.71 L470.54 207.48 L471.45 206.25 L472.37 205.01 L473.28 203.78 L474.2 202.55 L475.12 201.32 L476.03 200.1 L476.95 198.89 L477.86 197.68 L478.78 196.48 L479.69 195.29 L480.61 194.11 L481.53 192.94 L482.44 191.78 L483.36 190.64 L484.27 189.51 L485.19 188.39 L486.1 187.29 L487.02 186.21 L487.94 185.15 L488.85 184.11 L489.77 183.08 L490.68 182.07 L491.6 181.09 L492.51 180.13 L493.43 179.18 L494.35 178.26 L495.26 177.36 L496.18 176.49 L497.09 175.64 L498.01 174.81 L498.92 174 L499.84 173.22 L500.76 172.46 L501.67 171.72 L502.59 171.01 L503.5 170.32 L504.42 169.66 L505.33 169.02 L506.25 168.4 L507.17 167.8 L508.08 167.22 L509 166.67 L509.91 166.14 L510.83 165.63 L511.74 165.14 L512.66 164.67 L513.58 164.22 L514.49 163.79 L515.41 163.38 L516.32 162.99 L517.24 162.61 L518.15 162.25 L519.07 161.91 L519.99 161.59 L520.9 161.28 L521.82 160.98 L522.73 160.7 L523.65 160.44 L524.56 160.19 L525.48 159.95 L526.4 159.72 L527.31 159.5 L528.23 159.3 L529.14 159.11 L530.06 158.93 L530.97 158.75 L531.89 158.59 L532.81 158.44 L533.72 158.29 L534.64 158.16 L535.55 158.03 L536.47 157.91 L537.38 157.79 L538.3 157.68" stroke="#6aaaf0"/>
<path d="M392.7 267.41 L393.62 267.08 L394.53 266.75 L395.45 266.43 L396.36 266.1 L397.28 265.78 L398.19 265.45 L399.11 265.13 L400.03 264.8 L400.94 264.48 L401.86 264.16 L402.77 263.84 L403.69 263.52 L404.6 263.21 L405.52 262.9 L406.44 262.6 L407.35 262.32 L408.27 262.04 L409.18 261.75 L410.1 261.46 L411.01 261.15 L411.93 260.83 L412.85 260.51 L413.76 260.17 L414.68 259.83 L415.59 259.47 L416.51 259.1 L417.42 258.72 L418.34 258.34 L419.26 257.94 L420.17 257.52 L421.09 257.1 L422 256.66 L422.92 256.22 L423.83 255.75 L424.75 255.28 L425.67 254.79 L426.58 254.29 L427.5 253.78 L428.41 253.25 L429.33 252.71 L430.24 252.15 L431.16 251.58 L432.08 251 L432.99 250.4 L433.91 249.78 L434.82 249.15 L435.74 248.5 L436.65 247.84 L437.57 247.16 L438.49 246.47 L439.4 245.76 L440.32 245.03 L441.23 244.29 L442.15 243.53 L443.06 242.75 L443.98 241.96 L444.9 241.15 L445.81 240.33 L446.73 239.48 L447.64 238.62 L448.56 237.75 L449.47 236.86 L450.39 235.93 L451.31 234.97 L452.22 233.99 L453.14 232.99 L454.05 231.97 L454.97 230.94 L455.88 229.89 L456.8 228.83 L457.72 227.75 L458.63 226.66 L459.55 225.55 L460.46 224.43 L461.38 223.29 L462.29 222.14 L463.21 220.99 L464.13 219.81 L465.04 218.63 L465.96 217.44 L466.87 216.24 L467.79 215.04 L468.71 213.82 L469.62 212.6 L470.54 211.38 L471.45 210.15 L472.37 208.92 L473.28 207.69 L474.2 206.45 L475.12 205.22 L476.03 203.98 L476.95 202.75 L477.86 201.53 L478.78 200.3 L479.69 199.09 L480.61 197.88 L481.53 196.68 L482.44 195.48 L483.36 194.3 L484.27 193.13 L485.19 191.97 L486.1 190.83 L487.02 189.69 L487.94 188.58 L488.85 187.48 L489.77 186.39 L490.68 185.33 L491.6 184.28 L492.51 183.25 L493.43 182.24 L494.35 181.25 L495.26 180.28 L496.18 179.34 L497.09 178.41 L498.01 177.51 L498.92 176.63 L499.84 175.78 L500.76 174.94 L501.67 174.13 L502.59 173.35 L503.5 172.58 L504.42 171.85 L505.33 171.13 L506.25 170.44 L507.17 169.77 L508.08 169.12 L509 168.5 L509.91 167.9 L510.83 167.32 L511.74 166.76 L512.66 166.23 L513.58 165.71 L514.49 165.22 L515.41 164.75 L516.32 164.29 L517.24 163.86 L518.15 163.45 L519.07 163.05 L519.99 162.67 L520.9 162.31 L521.82 161.97 L522.73 161.64 L523.65 161.33 L524.56 161.03 L525.48 160.75 L526.4 160.48 L527.31 160.23 L528.23 159.99 L529.14 159.76 L530.06 159.54 L530.97 159.33 L531.89 159.14 L532.81 158.96 L533.72 158.78 L534.64 158.62 L535.55 158.46 L536.47 158.32 L537.38 158.18 L538.3 158.05" stroke="#60d0a8"/>
<path d="M392.7 267.41 L393.62 267.08 L394.53 266.75 L395.45 266.43 L396.36 266.1 L397.28 265.78 L398.19 265.46 L399.11 265.14 L400.03 264.81 L400.94 264.49 L401.86 264.17 L402.77 263.86 L403.69 263.54 L404.6 263.23 L405.52 262.92 L406.44 262.63 L407.35 262.36 L408.27 262.08 L409.18 261.8 L410.1 261.51 L411.01 261.21 L411.93 260.89 L412.85 260.57 L413.76 260.25 L414.68 259.91 L415.59 259.56 L416.51 259.2 L417.42 258.83 L418.34 258.45 L419.26 258.06 L420.17 257.65 L421.09 257.24 L422 256.81 L422.92 256.37 L423.83 255.92 L424.75 255.46 L425.67 254.99 L426.58 254.5 L427.5 254 L428.41 253.48 L429.33 252.96 L430.24 252.41 L431.16 251.86 L432.08 251.29 L432.99 250.7 L433.91 250.11 L434.82 249.49 L435.74 248.86 L436.65 248.22 L437.57 247.56 L438.49 246.89 L439.4 246.2 L440.32 245.49 L441.23 244.77 L442.15 244.03 L443.06 243.28 L443.98 242.51 L444.9 241.73 L445.81 240.93 L446.73 240.11 L447.64 239.28 L448.56 238.43 L449.47 237.56 L450.39 236.66 L451.31 235.71 L452.22 234.74 L453.14 233.75 L454.05 232.75 L454.97 231.73 L455.88 230.7 L456.8 229.65 L457.72 228.58 L458.63 227.5 L459.55 226.4 L460.46 225.29 L461.38 224.16 L462.29 223.02 L463.21 221.87 L464.13 220.71 L465.04 219.54 L465.96 218.35 L466.87 217.16 L467.79 215.96 L468.71 214.75 L469.62 213.54 L470.54 212.32 L471.45 211.09 L472.37 209.86 L473.28 208.63 L474.2 207.39 L475.12 206.16 L476.03 204.93 L476.95 203.69 L477.86 202.46 L478.78 201.24 L479.69 200.02 L480.61 198.8 L481.53 197.59 L482.44 196.39 L483.36 195.2 L484.27 194.02 L485.19 192.86 L486.1 191.7 L487.02 190.56 L487.94 189.43 L488.85 188.32 L489.77 187.22 L490.68 186.14 L491.6 185.08 L492.51 184.03 L493.43 183.01 L494.35 182.01 L495.26 181.02 L496.18 180.06 L497.09 179.12 L498.01 178.2 L498.92 177.3 L499.84 176.43 L500.76 175.58 L501.67 174.75 L502.59 173.95 L503.5 173.17 L504.42 172.41 L505.33 171.67 L506.25 170.96 L507.17 170.28 L508.08 169.61 L509 168.97 L509.91 168.35 L510.83 167.76 L511.74 167.19 L512.66 166.63 L513.58 166.1 L514.49 165.6 L515.41 165.11 L516.32 164.64 L517.24 164.19 L518.15 163.76 L519.07 163.35 L519.99 162.96 L520.9 162.59 L521.82 162.23 L522.73 161.89 L523.65 161.57 L524.56 161.26 L525.48 160.96 L526.4 160.68 L527.31 160.42 L528.23 160.17 L529.14 159.93 L530.06 159.7 L530.97 159.49 L531.89 159.29 L532.81 159.1 L533.72 158.91 L534.64 158.74 L535.55 158.58 L536.47 158.43 L537.38 158.28 L538.3 158.15" stroke="#c8a8f0"/>
<path d="M392.7 267.41 L393.62 267.08 L394.53 266.75 L395.45 266.43 L396.36 266.1 L397.28 265.78 L398.19 265.46 L399.11 265.13 L400.03 264.81 L400.94 264.49 L401.86 264.17 L402.77 263.85 L403.69 263.53 L404.6 263.22 L405.52 262.91 L406.44 262.62 L407.35 262.34 L408.27 262.07 L409.18 261.78 L410.1 261.48 L411.01 261.18 L411.93 260.87 L412.85 260.55 L413.76 260.21 L414.68 259.87 L415.59 259.52 L416.51 259.16 L417.42 258.78 L418.34 258.4 L419.26 258 L420.17 257.6 L421.09 257.18 L422 256.75 L422.92 256.31 L423.83 255.85 L424.75 255.38 L425.67 254.9 L426.58 254.41 L427.5 253.9 L428.41 253.38 L429.33 252.85 L430.24 252.3 L431.16 251.74 L432.08 251.16 L432.99 250.57 L433.91 249.97 L434.82 249.35 L435.74 248.71 L436.65 248.06 L437.57 247.39 L438.49 246.71 L439.4 246.01 L440.32 245.29 L441.23 244.56 L442.15 243.82 L443.06 243.05 L443.98 242.28 L444.9 241.48 L445.81 240.67 L446.73 239.84 L447.64 239 L448.56 238.14 L449.47 237.26 L450.39 236.35 L451.31 235.39 L452.22 234.42 L453.14 233.43 L454.05 232.42 L454.97 231.4 L455.88 230.35 L456.8 229.3 L457.72 228.23 L458.63 227.14 L459.55 226.04 L460.46 224.92 L461.38 223.79 L462.29 222.65 L463.21 221.49 L464.13 220.33 L465.04 219.15 L465.96 217.96 L466.87 216.77 L467.79 215.57 L468.71 214.35 L469.62 213.14 L470.54 211.92 L471.45 210.69 L472.37 209.46 L473.28 208.22 L474.2 206.99 L475.12 205.76 L476.03 204.52 L476.95 203.29 L477.86 202.06 L478.78 200.84 L479.69 199.62 L480.61 198.41 L481.53 197.2 L482.44 196 L483.36 194.82 L484.27 193.64 L485.19 192.48 L486.1 191.32 L487.02 190.19 L487.94 189.06 L488.85 187.95 L489.77 186.86 L490.68 185.79 L491.6 184.73 L492.51 183.7 L493.43 182.68 L494.35 181.68 L495.26 180.7 L496.18 179.75 L497.09 178.82 L498.01 177.9 L498.92 177.01 L499.84 176.15 L500.76 175.31 L501.67 174.48 L502.59 173.69 L503.5 172.92 L504.42 172.17 L505.33 171.44 L506.25 170.74 L507.17 170.06 L508.08 169.4 L509 168.77 L509.91 168.16 L510.83 167.57 L511.74 167 L512.66 166.46 L513.58 165.94 L514.49 165.43 L515.41 164.95 L516.32 164.49 L517.24 164.05 L518.15 163.63 L519.07 163.22 L519.99 162.84 L520.9 162.47 L521.82 162.12 L522.73 161.78 L523.65 161.46 L524.56 161.16 L525.48 160.87 L526.4 160.6 L527.31 160.34 L528.23 160.09 L529.14 159.85 L530.06 159.63 L530.97 159.42 L531.89 159.22 L532.81 159.03 L533.72 158.86 L534.64 158.69 L535.55 158.53 L536.47 158.38 L537.38 158.24 L538.3 158.1" stroke="#f0c878"/>
<path d="M392.7 267.41 L393.62 267.08 L394.53 266.75 L395.45 266.43 L396.36 266.11 L397.28 265.79 L398.19 265.47 L399.11 265.15 L400.03 264.83 L400.94 264.51 L401.86 264.19 L402.77 263.88 L403.69 263.57 L404.6 263.26 L405.52 262.96 L406.44 262.68 L407.35 262.41 L408.27 262.14 L409.18 261.86 L410.1 261.58 L411.01 261.28 L411.93 260.98 L412.85 260.67 L413.76 260.35 L414.68 260.02 L415.59 259.68 L416.51 259.33 L417.42 258.97 L418.34 258.6 L419.26 258.22 L420.17 257.83 L421.09 257.43 L422 257.02 L422.92 256.6 L423.83 256.16 L424.75 255.72 L425.67 255.26 L426.58 254.79 L427.5 254.31 L428.41 253.81 L429.33 253.3 L430.24 252.78 L431.16 252.25 L432.08 251.7 L432.99 251.14 L433.91 250.56 L434.82 249.97 L435.74 249.37 L436.65 248.75 L437.57 248.12 L438.49 247.47 L439.4 246.81 L440.32 246.14 L441.23 245.45 L442.15 244.74 L443.06 244.02 L443.98 243.28 L444.9 242.53 L445.81 241.77 L446.73 240.99 L447.64 240.19 L448.56 239.38 L449.47 238.55 L450.39 237.68 L451.31 236.75 L452.22 235.8 L453.14 234.83 L454.05 233.85 L454.97 232.85 L455.88 231.83 L456.8 230.79 L457.72 229.74 L458.63 228.68 L459.55 227.6 L460.46 226.5 L461.38 225.39 L462.29 224.27 L463.21 223.13 L464.13 221.98 L465.04 220.82 L465.96 219.65 L466.87 218.46 L467.79 217.27 L468.71 216.07 L469.62 214.86 L470.54 213.65 L471.45 212.43 L472.37 211.2 L473.28 209.97 L474.2 208.74 L475.12 207.51 L476.03 206.27 L476.95 205.04 L477.86 203.81 L478.78 202.58 L479.69 201.35 L480.61 200.13 L481.53 198.91 L482.44 197.71 L483.36 196.5 L484.27 195.31 L485.19 194.13 L486.1 192.96 L487.02 191.81 L487.94 190.66 L488.85 189.53 L489.77 188.42 L490.68 187.32 L491.6 186.24 L492.51 185.17 L493.43 184.13 L494.35 183.1 L495.26 182.1 L496.18 181.11 L497.09 180.15 L498.01 179.2 L498.92 178.28 L499.84 177.39 L500.76 176.51 L501.67 175.66 L502.59 174.83 L503.5 174.02 L504.42 173.24 L505.33 172.48 L506.25 171.74 L507.17 171.03 L508.08 170.34 L509 169.67 L509.91 169.03 L510.83 168.41 L511.74 167.81 L512.66 167.24 L513.58 166.68 L514.49 166.15 L515.41 165.64 L516.32 165.15 L517.24 164.68 L518.15 164.23 L519.07 163.8 L519.99 163.39 L520.9 163 L521.82 162.62 L522.73 162.26 L523.65 161.92 L524.56 161.59 L525.48 161.28 L526.4 160.99 L527.31 160.71 L528.23 160.44 L529.14 160.19 L530.06 159.95 L530.97 159.72 L531.89 159.51 L532.81 159.31 L533.72 159.11 L534.64 158.93 L535.55 158.76 L536.47 158.59 L537.38 158.44 L538.3 158.3" stroke="#50e0e8"/>
</g>
<rect x="392.7" y="151.8" width="145.6" height="117.4" fill="none" stroke="#6e6e6e" stroke-width="0.9"/>
<line x1="390.7" y1="151.6" x2="392.7" y2="151.6" stroke="#6e6e6e" stroke-width="0.8"/>
<line x1="390.7" y1="174.78" x2="392.7" y2="174.78" stroke="#6e6e6e" stroke-width="0.8"/>
<line x1="390.7" y1="197.96" x2="392.7" y2="197.96" stroke="#6e6e6e" stroke-width="0.8"/>
<line x1="390.7" y1="221.14" x2="392.7" y2="221.14" stroke="#6e6e6e" stroke-width="0.8"/>
<line x1="390.7" y1="244.32" x2="392.7" y2="244.32" stroke="#6e6e6e" stroke-width="0.8"/>
<line x1="390.7" y1="267.5" x2="392.7" y2="267.5" stroke="#6e6e6e" stroke-width="0.8"/>
<line x1="391.5" y1="163.19" x2="392.7" y2="163.19" stroke="#6e6e6e" stroke-width="0.8"/>
<line x1="391.5" y1="186.37" x2="392.7" y2="186.37" stroke="#6e6e6e" stroke-width="0.8"/>
<line x1="391.5" y1="209.55" x2="392.7" y2="209.55" stroke="#6e6e6e" stroke-width="0.8"/>
<line x1="391.5" y1="232.73" x2="392.7" y2="232.73" stroke="#6e6e6e" stroke-width="0.8"/>
<line x1="391.5" y1="255.91" x2="392.7" y2="255.91" stroke="#6e6e6e" stroke-width="0.8"/>
<line x1="392.7" y1="269.2" x2="392.7" y2="271.2" stroke="#6e6e6e" stroke-width="0.8"/>
<line x1="425" y1="269.2" x2="425" y2="271.2" stroke="#6e6e6e" stroke-width="0.8"/>
<line x1="457.3" y1="269.2" x2="457.3" y2="271.2" stroke="#6e6e6e" stroke-width="0.8"/>
<line x1="489.6" y1="269.2" x2="489.6" y2="271.2" stroke="#6e6e6e" stroke-width="0.8"/>
<line x1="521.9" y1="269.2" x2="521.9" y2="271.2" stroke="#6e6e6e" stroke-width="0.8"/>
<line x1="408.85" y1="269.2" x2="408.85" y2="270.4" stroke="#6e6e6e" stroke-width="0.8"/>
<line x1="441.15" y1="269.2" x2="441.15" y2="270.4" stroke="#6e6e6e" stroke-width="0.8"/>
<line x1="473.45" y1="269.2" x2="473.45" y2="270.4" stroke="#6e6e6e" stroke-width="0.8"/>
<line x1="505.75" y1="269.2" x2="505.75" y2="270.4" stroke="#6e6e6e" stroke-width="0.8"/>
<line x1="538.05" y1="269.2" x2="538.05" y2="270.4" stroke="#6e6e6e" stroke-width="0.8"/>
<text x="388.8" y="154.2" font-size="7.5" text-anchor="end" fill="#1c1c1c" color="#1c1c1c">0.0</text>
<text x="388.8" y="177.38" font-size="7.5" text-anchor="end" fill="#1c1c1c" color="#1c1c1c">-0.2</text>
<text x="388.8" y="200.56" font-size="7.5" text-anchor="end" fill="#1c1c1c" color="#1c1c1c">-0.4</text>
<text x="388.8" y="223.74" font-size="7.5" text-anchor="end" fill="#1c1c1c" color="#1c1c1c">-0.6</text>
<text x="388.8" y="246.92" font-size="7.5" text-anchor="end" fill="#1c1c1c" color="#1c1c1c">-0.8</text>
<text x="388.8" y="270.1" font-size="7.5" text-anchor="end" fill="#1c1c1c" color="#1c1c1c">-1.0</text>
<text x="392.7" y="279.4" font-size="7.5" text-anchor="middle" fill="#1c1c1c" color="#1c1c1c">-200</text>
<text x="425" y="279.4" font-size="7.5" text-anchor="middle" fill="#1c1c1c" color="#1c1c1c">0</text>
<text x="457.3" y="279.4" font-size="7.5" text-anchor="middle" fill="#1c1c1c" color="#1c1c1c">200</text>
<text x="489.6" y="279.4" font-size="7.5" text-anchor="middle" fill="#1c1c1c" color="#1c1c1c">400</text>
<text x="521.9" y="279.4" font-size="7.5" text-anchor="middle" fill="#1c1c1c" color="#1c1c1c">600</text>
<text x="460.4" y="287.9" font-size="8.3" text-anchor="middle" fill="#1c1c1c">V<tspan font-size="6" dy="1.6">G</tspan><tspan dy="-1.6"> / mV</tspan></text>
<text transform="translate(371.6 207.2) rotate(-90)" font-size="8.3" text-anchor="middle" fill="#1c1c1c">I<tspan font-size="6" dy="1.6">DS</tspan><tspan dy="-1.6"> / mA</tspan></text>
<line x1="392.9" y1="155.6" x2="406.7" y2="155.6" stroke="#a8a8a8" stroke-width="0.9"/>
<text x="409" y="157.9" font-size="6.5" text-anchor="start" fill="#1c1c1c" color="#1c1c1c" letter-spacing="0.1">KCl</text>
<line x1="392.9" y1="164.25" x2="406.7" y2="164.25" stroke="#f49a9a" stroke-width="1"/>
<text x="409" y="166.55" font-size="6.5" text-anchor="start" fill="#1c1c1c" color="#1c1c1c" letter-spacing="0.1">1 μM pH = 6.40</text>
<line x1="392.9" y1="172.9" x2="406.7" y2="172.9" stroke="#78b0f0" stroke-width="1"/>
<text x="409" y="175.2" font-size="6.5" text-anchor="start" fill="#1c1c1c" color="#1c1c1c" letter-spacing="0.1">10 μM pH = 6.39</text>
<line x1="392.9" y1="181.55" x2="406.7" y2="181.55" stroke="#60d4a8" stroke-width="1"/>
<text x="409" y="183.85" font-size="6.5" text-anchor="start" fill="#1c1c1c" color="#1c1c1c" letter-spacing="0.1">100 μM pH = 6.69</text>
<line x1="392.9" y1="190.2" x2="406.7" y2="190.2" stroke="#cfb0f2" stroke-width="1"/>
<text x="409" y="192.5" font-size="6.5" text-anchor="start" fill="#1c1c1c" color="#1c1c1c" letter-spacing="0.1">500 μM pH = 8.90</text>
<line x1="392.9" y1="198.85" x2="406.7" y2="198.85" stroke="#f2cc88" stroke-width="1"/>
<text x="409" y="201.15" font-size="6.5" text-anchor="start" fill="#1c1c1c" color="#1c1c1c" letter-spacing="0.1">1 mM pH = 10.03</text>
<line x1="392.9" y1="207.5" x2="406.7" y2="207.5" stroke="#40e0ec" stroke-width="1.4"/>
<text x="409" y="209.8" font-size="6.5" text-anchor="start" fill="#1c1c1c" color="#1c1c1c" letter-spacing="0.1">2.5 mM pH = 10.64</text>
<text x="358.6" y="157.4" font-size="9.6" text-anchor="start" fill="#111" color="#111" style="stroke-width:0.25px">D</text>
<text x="540.2" y="160" font-size="9.4" text-anchor="start" fill="#111" color="#111" style="stroke-width:0.25px" textLength="5.4" lengthAdjust="spacingAndGlyphs">E</text>
<rect x="474.5" y="215.1" width="60.4" height="48.1" fill="#fff" stroke="#6e6e6e" stroke-width="0.7"/>
<g clip-path="url(#clipEi)">
<line x1="478.2" y1="263.2" x2="506.77" y2="215.1" stroke="#f05a5a" stroke-width="0.85"/>
<line x1="485.3" y1="263.2" x2="513.87" y2="215.1" stroke="#505050" stroke-width="0.85"/>
<line x1="491.4" y1="263.2" x2="519.97" y2="215.1" stroke="#2a88f0" stroke-width="0.85"/>
<line x1="505.7" y1="263.2" x2="534.27" y2="215.1" stroke="#20c088" stroke-width="0.85"/>
<line x1="507.8" y1="263.2" x2="536.37" y2="215.1" stroke="#f0a830" stroke-width="0.85"/>
<line x1="509.6" y1="263.2" x2="538.17" y2="215.1" stroke="#b080f0" stroke-width="0.85"/>
<line x1="513.9" y1="263.2" x2="542.47" y2="215.1" stroke="#20d8e8" stroke-width="0.85"/>
</g>
<line x1="483.3" y1="246.3" x2="529" y2="246.3" stroke="#222" stroke-width="0.8"/>
<polygon points="532.4,246.3 527.4,244.3 527.4,248.3" fill="#222"/>
<line x1="473.3" y1="234.7" x2="474.5" y2="234.7" stroke="#6e6e6e" stroke-width="0.6"/>
<line x1="473.3" y1="262.7" x2="474.5" y2="262.7" stroke="#6e6e6e" stroke-width="0.6"/>
<text x="472.4" y="236.8" font-size="5.9" text-anchor="end" fill="#1c1c1c" color="#1c1c1c">-0.69</text>
<text x="472.4" y="264.8" font-size="5.9" text-anchor="end" fill="#1c1c1c" color="#1c1c1c">-0.72</text>
<text x="497.9" y="269.7" font-size="5.9" text-anchor="middle" fill="#1c1c1c" color="#1c1c1c">150</text>
<text x="475.6" y="224.4" font-size="9.2" fill="#1c1c1c">C<tspan font-size="5.9" dy="1.3">NH4OH</tspan></text>
<g fill="#111" color="#111" font-size="15.2" class="big">
<text x="35.3" y="186.4">H<tspan font-size="11.6" dy="5.0">2</tspan><tspan dy="-5.0">N</tspan></text>
<text x="107.4" y="186.4">NH<tspan font-size="11.6" dy="5.0">2</tspan></text>
<text x="80.4" y="234.6" font-size="15.9">O</text>
</g>
<g stroke="#222" stroke-width="0.95" fill="none">
<polyline points="66.3,185.4 86.6,196.9 106.4,185.2"/>
<line x1="84.5" y1="197.8" x2="84.5" y2="220.5" stroke="#222" stroke-width="0.95"/>
<line x1="88.7" y1="197.8" x2="88.7" y2="220.5" stroke="#222" stroke-width="0.95"/>
</g>
<text x="77.5" y="250.2" font-size="10" text-anchor="start" fill="#222" color="#222">Urea</text>
<defs><radialGradient id="ball" cx="0.38" cy="0.33" r="0.72"><stop offset="0" stop-color="#f8785e"/><stop offset="0.45" stop-color="#f2644c"/><stop offset="0.8" stop-color="#e4503a"/><stop offset="1" stop-color="#c8402c"/></radialGradient>
<filter id="tex" x="0" y="0" width="1" height="1" color-interpolation-filters="sRGB"><feTurbulence type="fractalNoise" baseFrequency="0.45" numOctaves="2" seed="11" result="n"/><feColorMatrix in="n" type="matrix" values="0.480 0 0 0 0.260  0.900 0 0 0 0.050  0.780 0 0 0 0.110  0 0 0 0 1" result="g"/><feComposite in="SourceGraphic" in2="g" operator="arithmetic" k1="0" k2="1" k3="1" k4="-0.5" result="m"/><feComposite in="m" in2="SourceAlpha" operator="in"/></filter></defs>
<circle cx="196.8" cy="173.9" r="19.2" fill="url(#ball)" filter="url(#tex)"/>
<text x="179.9" y="203.8" font-size="10.2" text-anchor="start" fill="#222" color="#222">Urease</text>
<line x1="146.1" y1="207.7" x2="243" y2="207.7" stroke="#15256a" stroke-width="2.4"/>
<polygon points="241.6,203.6 249.4,207.7 241.6,211.8" fill="#15256a"/>
<g fill="#111" color="#111" font-size="16.2" class="big">
<text x="268.1" y="176.6">HCO<tspan font-size="11.6" dy="4.3">3</tspan></text>
<text x="270.2" y="211.4">2NH<tspan font-size="11.6" dy="4.3">4</tspan></text>
<text x="274.4" y="246.3">HO</text>
</g>
<text x="304.7" y="167.8" font-size="10.2" fill="#111" color="#111" style="stroke-width:0.45px">−</text>
<text x="304.1" y="201.4" font-size="10.6" fill="#111" color="#111" style="stroke-width:0.25px">+</text>
<text x="299.1" y="235.4" font-size="7.6" fill="#111" color="#111" style="stroke-width:0.5px">−</text>
<ellipse cx="290.9" cy="239.8" rx="21.3" ry="12.6" fill="none" stroke="#1a2d80" stroke-width="1.7"/>
<polygon points="335.6,221.0 353.6,237.0 345.6,237.0 345.6,253.1 326.5,253.1 326.5,237.0 318.2,237.0" fill="#d4dbe7" stroke="#1a2a6c" stroke-width="1.6" stroke-linejoin="miter"/>
<text x="335.6" y="243.9" font-size="9.8" text-anchor="middle" fill="#333" color="#333">pH</text>
<text x="261.6" y="273.4" font-size="10.75" text-anchor="start" fill="#222" color="#222">Local pH increament</text>
</svg>
</body></html>
